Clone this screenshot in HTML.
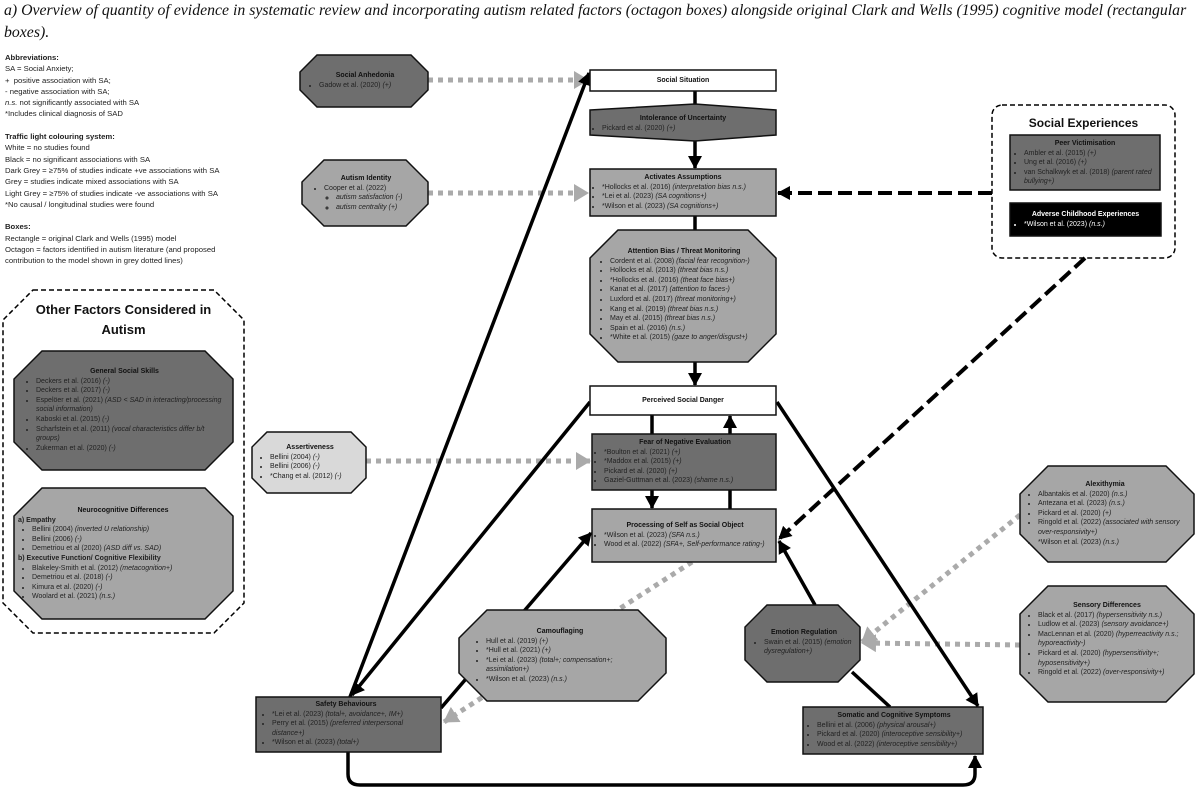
<!DOCTYPE html>
<html><head><meta charset="utf-8">
<style>
body{margin:0;background:#fff;}
#w{position:relative;width:1200px;height:793px;overflow:hidden;background:#fff;}
.t{position:absolute;left:4px;top:0;font:italic 15.8px/22px "Liberation Serif",serif;color:#111;width:1195px;white-space:nowrap;}
.lg{position:absolute;left:5px;top:52px;font:7.7px/11.3px "Liberation Sans",sans-serif;color:#222;}
.n{position:absolute;font:7px/9.6px "Liberation Sans",sans-serif;color:#222;}
.n b{display:block;text-align:center;color:#111;}
.n ul{margin:0;padding-left:14px;}
.n ul ul{padding-left:12px;list-style:circle;}
.w{color:#fff}.w b{color:#fff}
svg{position:absolute;left:0;top:0;}
</style></head><body><div id="w">
<svg width="1200" height="793">
<defs>
<marker id="ab" markerUnits="userSpaceOnUse" markerWidth="14" markerHeight="14" refX="12" refY="7" orient="auto"><path d="M0,0 L13,7 L0,14 z" fill="#000"/></marker>
<marker id="ag" markerUnits="userSpaceOnUse" markerWidth="16" markerHeight="18" refX="14" refY="9" orient="auto"><path d="M0,0 L15,9 L0,18 z" fill="#aaa"/></marker>
</defs>
<g fill="none">
<polygon points="33,290 214,290 244,320 244,603 214,633 33,633 3,603 3,320" stroke="#000" stroke-width="1.5" stroke-dasharray="5 3" fill="#fff"/>
<rect x="992" y="105" width="183" height="153" rx="10" stroke="#000" stroke-width="1.5" stroke-dasharray="5 3" fill="#fff"/>
<g stroke="#aaa" stroke-width="5" stroke-dasharray="5 5" marker-end="url(#ag)">
<line x1="428" y1="80" x2="588" y2="80"/>
<line x1="428" y1="193" x2="588" y2="193"/>
<line x1="366" y1="461" x2="590" y2="461"/>
<line x1="692" y1="562" x2="444" y2="722"/>
<line x1="1020" y1="515" x2="862" y2="642"/>
<line x1="1020" y1="645" x2="862" y2="643"/>
</g>
<g stroke="#000" stroke-width="3.5">
<line x1="695" y1="91" x2="695" y2="106"/>
<line x1="695" y1="140" x2="695" y2="168" marker-end="url(#ab)"/>
<line x1="695" y1="216" x2="695" y2="232"/>
<line x1="695" y1="362" x2="695" y2="385" marker-end="url(#ab)"/>
<line x1="652" y1="415" x2="652" y2="434"/>
<line x1="652" y1="490" x2="652" y2="508" marker-end="url(#ab)"/>
<line x1="730" y1="434" x2="730" y2="416" marker-end="url(#ab)"/>
<line x1="730" y1="509" x2="730" y2="490"/>
<line x1="350" y1="697" x2="589" y2="73" marker-end="url(#ab)"/>
<line x1="590" y1="402" x2="352" y2="695" marker-end="url(#ab)"/>
<line x1="441" y1="708" x2="591" y2="533" marker-end="url(#ab)"/>
<line x1="777" y1="402" x2="978" y2="706" marker-end="url(#ab)"/>
<line x1="815" y1="605" x2="779" y2="541" marker-end="url(#ab)"/>
<line x1="852" y1="672" x2="890" y2="707"/>
<path d="M348,752 V774 Q348,785 360,785 H963 Q975,785 975,774 V756" marker-end="url(#ab)"/>
</g>
<g stroke="#000" stroke-width="4" stroke-dasharray="14 6" marker-end="url(#ab)">
<line x1="992" y1="193" x2="778" y2="193"/>
<line x1="1085" y1="258" x2="779" y2="539"/>
</g>
<g stroke="#111" stroke-width="1.5">
<polygon points="317,55 411,55 428,72 428,90 411,107 317,107 300,90 300,72" fill="#6e6e6e"/>
<polygon points="324,160 406,160 428,182 428,204 406,226 324,226 302,204 302,182" fill="#a6a6a6"/>
<polygon points="267,432 351,432 366,447 366,478 351,493 267,493 252,478 252,447" fill="#d9d9d9"/>
<polygon points="42,351 205,351 233,379 233,442 205,470 42,470 14,442 14,379" fill="#6e6e6e"/>
<polygon points="42,488 205,488 233,516 233,591 205,619 42,619 14,591 14,516" fill="#a6a6a6"/>
<rect x="590" y="70" width="186" height="21" fill="#fff"/>
<polygon points="590,110 695,104 776,110 776,135 695,141 590,135" fill="#6e6e6e"/>
<rect x="590" y="169" width="186" height="47" fill="#a6a6a6"/>
<polygon points="618,230 748,230 776,258 776,334 748,362 618,362 590,334 590,258" fill="#a6a6a6"/>
<rect x="590" y="386" width="186" height="29" fill="#fff"/>
<rect x="592" y="434" width="184" height="56" fill="#6e6e6e"/>
<rect x="592" y="509" width="184" height="53" fill="#a6a6a6"/>
<rect x="1010" y="135" width="150" height="55" fill="#6e6e6e"/>
<rect x="1010" y="203" width="151" height="33" fill="#000"/>
<polygon points="487,610 638,610 666,638 666,673 638,701 487,701 459,673 459,638" fill="#a6a6a6"/>
<rect x="256" y="697" width="185" height="55" fill="#6e6e6e"/>
<polygon points="767,605 838,605 860,627 860,660 838,682 767,682 745,660 745,627" fill="#6e6e6e"/>
<rect x="803" y="707" width="180" height="47" fill="#6e6e6e"/>
<polygon points="1048,466 1166,466 1194,494 1194,534 1166,562 1048,562 1020,534 1020,494" fill="#a6a6a6"/>
<polygon points="1048,586 1166,586 1194,614 1194,674 1166,702 1048,702 1020,674 1020,614" fill="#a6a6a6"/>
</g>
</g>
</svg>
<div class="t">a) Overview of quantity of evidence in systematic review and incorporating autism related factors (octagon boxes) alongside original Clark and Wells (1995) cognitive model (rectangular<br>boxes).</div>
<div class="lg"><b>Abbreviations:</b><br>SA = Social Anxiety;<br>+&nbsp; positive association with SA;<br>- negative association with SA;<br><i>n.s.</i> not significantly associated with SA<br>*Includes clinical diagnosis of SAD<br><br><b>Traffic light colouring system:</b><br>White = no studies found<br>Black = no significant associations with SA<br>Dark Grey = ≥75% of studies indicate +ve associations with SA<br>Grey = studies indicate mixed associations with SA<br>Light Grey = ≥75% of studies indicate -ve associations with SA<br>*No causal / longitudinal studies were found<br><br><b>Boxes:</b><br>Rectangle = original Clark and Wells (1995) model<br>Octagon = factors identified in autism literature (and proposed<br>contribution to the model shown in grey dotted lines)</div>
<div style="position:absolute;left:3px;top:300px;width:241px;text-align:center;font:bold 13px/20px 'Liberation Sans',sans-serif;color:#111">Other Factors Considered in<br>Autism</div>
<div style="position:absolute;left:992px;top:115px;width:183px;text-align:center;font:bold 12px/17px 'Liberation Sans',sans-serif;color:#111">Social Experiences</div>

<div class="n" style="left:305px;top:71px;width:120px"><b>Social Anhedonia</b><ul><li>Gadow et al. (2020) <i>(+)</i></li></ul></div>
<div class="n" style="left:310px;top:174px;width:112px"><b>Autism Identity</b><ul><li>Cooper et al. (2022)<ul><li><i>autism satisfaction (-)</i></li><li><i>autism centrality (+)</i></li></ul></li></ul></div>
<div class="n" style="left:256px;top:443px;width:108px"><b>Assertiveness</b><ul><li>Bellini (2004) <i>(-)</i></li><li>Bellini (2006) <i>(-)</i></li><li>*Chang et al. (2012) <i>(-)</i></li></ul></div>
<div class="n" style="left:22px;top:367px;width:205px"><b>General Social Skills</b><ul><li>Deckers et al. (2016) <i>(-)</i></li><li>Deckers et al. (2017) <i>(-)</i></li><li>Espelöer et al. (2021) <i>(ASD &lt; SAD in interacting/processing social information)</i></li><li>Kaboski et al. (2015) <i>(-)</i></li><li>Scharfstein et al. (2011) <i>(vocal characteristics differ b/t groups)</i></li><li>Zukerman et al. (2020) <i>(-)</i></li></ul></div>
<div class="n" style="left:18px;top:506px;width:210px"><b>Neurocognitive Differences</b><div style="font-weight:bold">a) Empathy</div><ul><li>Bellini (2004) <i>(inverted U relationship)</i></li><li>Bellini (2006) <i>(-)</i></li><li>Demetriou et al (2020) <i>(ASD diff vs. SAD)</i></li></ul><div style="font-weight:bold">b) Executive Function/ Cognitive Flexibility</div><ul><li>Blakeley-Smith et al. (2012) <i>(metacognition+)</i></li><li>Demetriou et al. (2018) <i>(-)</i></li><li>Kimura et al. (2020) <i>(-)</i></li><li>Woolard et al. (2021) <i>(n.s.)</i></li></ul></div>

<div class="n" style="left:590px;top:76px;width:186px"><b>Social Situation</b></div>
<div class="n" style="left:592px;top:114px;width:182px"><b>Intolerance of Uncertainty</b><ul style="padding-left:10px"><li>Pickard et al. (2020) <i>(+)</i></li></ul></div>
<div class="n" style="left:592px;top:173px;width:182px"><b>Activates Assumptions</b><ul style="padding-left:10px"><li>*Hollocks et al. (2016) <i>(interpretation bias n.s.)</i></li><li>*Lei et al. (2023) <i>(SA cognitions+)</i></li><li>*Wilson et al. (2023) <i>(SA cognitions+)</i></li></ul></div>
<div class="n" style="left:596px;top:247px;width:176px"><b>Attention Bias / Threat Monitoring</b><ul><li>Cordent et al. (2008) <i>(facial fear recognition-)</i></li><li>Hollocks et al. (2013) <i>(threat bias n.s.)</i></li><li>*Hollocks et al. (2016) <i>(theat face bias+)</i></li><li>Kanat et al. (2017) <i>(attention to faces-)</i></li><li>Luxford et al. (2017) <i>(threat monitoring+)</i></li><li>Kang et al. (2019) <i>(threat bias n.s.)</i></li><li>May et al. (2015) <i>(threat bias n.s.)</i></li><li>Spain et al. (2016) <i>(n.s.)</i></li><li>*White et al. (2015) <i>(gaze to anger/disgust+)</i></li></ul></div>
<div class="n" style="left:590px;top:396px;width:186px"><b>Perceived Social Danger</b></div>
<div class="n" style="left:594px;top:438px;width:182px"><b>Fear of Negative Evaluation</b><ul style="padding-left:10px"><li>*Boulton et al. (2021) <i>(+)</i></li><li>*Maddox et al. (2015) <i>(+)</i></li><li>Pickard et al. (2020) <i>(+)</i></li><li>Gaziel-Guttman et al. (2023) <i>(shame n.s.)</i></li></ul></div>
<div class="n" style="left:594px;top:521px;width:182px"><b>Processing of Self as Social Object</b><ul style="padding-left:10px"><li>*Wilson et al. (2023) <i>(SFA n.s.)</i></li><li>Wood et al. (2022) <i>(SFA+, Self-performance rating-)</i></li></ul></div>
<div class="n" style="left:1012px;top:139px;width:146px"><b>Peer Victimisation</b><ul style="padding-left:12px"><li>Ambler et al. (2015) <i>(+)</i></li><li>Ung et al. (2016) <i>(+)</i></li><li>van Schalkwyk et al. (2018) <i>(parent rated bullying+)</i></li></ul></div>
<div class="n w" style="left:1012px;top:210px;width:147px"><b>Adverse Childhood Experiences</b><ul style="padding-left:12px"><li>*Wilson et al. (2023) <i>(n.s.)</i></li></ul></div>
<div class="n" style="left:470px;top:627px;width:180px"><b>Camouflaging</b><ul style="padding-left:16px"><li>Hull et al. (2019) <i>(+)</i></li><li>*Hull et al. (2021) <i>(+)</i></li><li>*Lei et al. (2023) <i>(total+; compensation+; assimilation+)</i></li><li>*Wilson et al. (2023) <i>(n.s.)</i></li></ul></div>
<div class="n" style="left:258px;top:700px;width:176px"><b>Safety Behaviours</b><ul style="padding-left:14px"><li>*Lei et al. (2023) <i>(total+, avoidance+, IM+)</i></li><li>Perry et al. (2015) <i>(preferred interpersonal distance+)</i></li><li>*Wilson et al. (2023) <i>(total+)</i></li></ul></div>
<div class="n" style="left:752px;top:628px;width:104px"><b>Emotion Regulation</b><ul style="padding-left:12px"><li>Swain et al. (2015) <i>(emotion dysregulation+)</i></li></ul></div>
<div class="n" style="left:805px;top:711px;width:178px"><b>Somatic and Cognitive Symptoms</b><ul style="padding-left:12px"><li>Bellini et al. (2006) <i>(physical arousal+)</i></li><li>Pickard et al. (2020) <i>(interoceptive sensibility+)</i></li><li>Wood et al. (2022) <i>(interoceptive sensibility+)</i></li></ul></div>
<div class="n" style="left:1024px;top:480px;width:162px"><b>Alexithymia</b><ul><li>Albantakis et al. (2020) <i>(n.s.)</i></li><li>Antezana et al. (2023) <i>(n.s.)</i></li><li>Pickard et al. (2020) <i>(+)</i></li><li>Ringold et al. (2022) <i>(associated with sensory over-responsivity+)</i></li><li>*Wilson et al. (2023) <i>(n.s.)</i></li></ul></div>
<div class="n" style="left:1024px;top:601px;width:166px"><b>Sensory Differences</b><ul><li>Black et al. (2017) <i>(hypersensitivity n.s.)</i></li><li>Ludlow et al. (2023) <i>(sensory avoidance+)</i></li><li>MacLennan et al. (2020) <i>(hyperreactivity n.s.; hyporeactivity-)</i></li><li>Pickard et al. (2020) <i>(hypersensitivity+; hyposensitivity+)</i></li><li>Ringold et al. (2022) <i>(over-responsivity+)</i></li></ul></div>
</div></body></html>
